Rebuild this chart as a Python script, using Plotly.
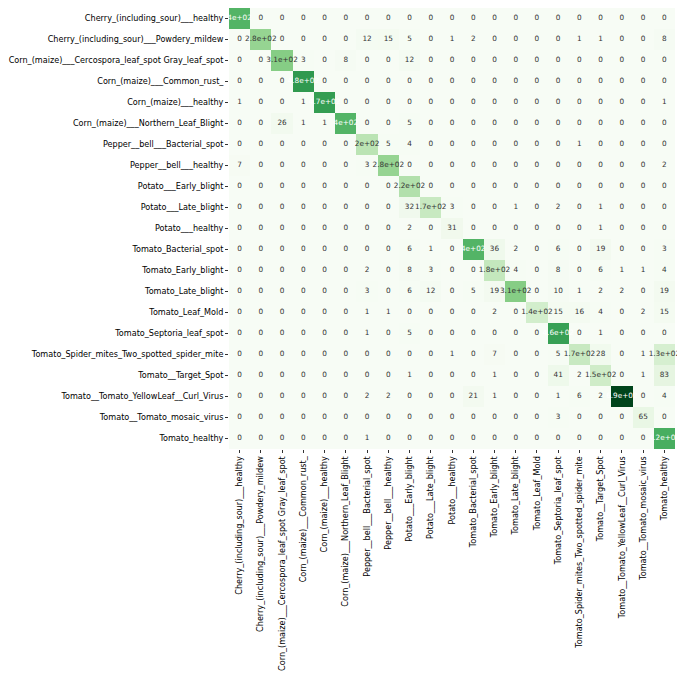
import plotly.graph_objects as go
import plotly.express as px

labels = [
    "Cherry_(including_sour)___healthy",
    "Cherry_(including_sour)___Powdery_mildew",
    "Corn_(maize)___Cercospora_leaf_spot Gray_leaf_spot",
    "Corn_(maize)___Common_rust_",
    "Corn_(maize)___healthy",
    "Corn_(maize)___Northern_Leaf_Blight",
    "Pepper__bell___Bacterial_spot",
    "Pepper__bell___healthy",
    "Potato___Early_blight",
    "Potato___Late_blight",
    "Potato___healthy",
    "Tomato_Bacterial_spot",
    "Tomato_Early_blight",
    "Tomato_Late_blight",
    "Tomato_Leaf_Mold",
    "Tomato_Septoria_leaf_spot",
    "Tomato_Spider_mites_Two_spotted_spider_mite",
    "Tomato__Target_Spot",
    "Tomato__Tomato_YellowLeaf__Curl_Virus",
    "Tomato__Tomato_mosaic_virus",
    "Tomato_healthy",
]

# one row of the confusion matrix per true class (predicted classes along x)
cherry_healthy = [400, 0, 0, 0, 0, 0, 0, 0, 0, 0, 0, 0, 0, 0, 0, 0, 0, 0, 0, 0, 0]
cherry_mildew = [0, 280, 0, 0, 0, 0, 12, 15, 5, 0, 1, 2, 0, 0, 0, 0, 1, 1, 0, 0, 8]
corn_cercospora = [0, 0, 310, 3, 0, 8, 0, 0, 12, 0, 0, 0, 0, 0, 0, 0, 0, 0, 0, 0, 0]
corn_rust = [0, 0, 0, 480, 0, 0, 0, 0, 0, 0, 0, 0, 0, 0, 0, 0, 0, 0, 0, 0, 0]
corn_healthy = [1, 0, 0, 1, 470, 0, 0, 0, 0, 0, 0, 0, 0, 0, 0, 0, 0, 0, 0, 0, 1]
corn_blight = [0, 0, 26, 1, 1, 400, 0, 0, 5, 0, 0, 0, 0, 0, 0, 0, 0, 0, 0, 0, 0]
pepper_spot = [0, 0, 0, 0, 0, 0, 200, 5, 4, 0, 0, 0, 0, 0, 0, 0, 1, 0, 0, 0, 0]
pepper_healthy = [7, 0, 0, 0, 0, 0, 3, 280, 0, 0, 0, 0, 0, 0, 0, 0, 0, 0, 0, 0, 2]
potato_early = [0, 0, 0, 0, 0, 0, 0, 0, 220, 0, 0, 0, 0, 0, 0, 0, 0, 0, 0, 0, 0]
potato_late = [0, 0, 0, 0, 0, 0, 0, 0, 32, 170, 3, 0, 0, 1, 0, 2, 0, 1, 0, 0, 0]
potato_healthy = [0, 0, 0, 0, 0, 0, 0, 0, 2, 0, 31, 0, 0, 0, 0, 0, 0, 1, 0, 0, 0]
tomato_bact = [0, 0, 0, 0, 0, 0, 0, 0, 6, 1, 0, 400, 36, 2, 0, 6, 0, 19, 0, 0, 3]
tomato_early = [0, 0, 0, 0, 0, 0, 2, 0, 8, 3, 0, 0, 180, 4, 0, 8, 0, 6, 1, 1, 4]
tomato_late = [0, 0, 0, 0, 0, 0, 3, 0, 6, 12, 0, 5, 19, 310, 0, 10, 1, 2, 2, 0, 19]
tomato_mold = [0, 0, 0, 0, 0, 0, 1, 1, 0, 0, 0, 0, 2, 0, 140, 15, 16, 4, 0, 2, 15]
tomato_septoria = [0, 0, 0, 0, 0, 0, 1, 0, 5, 0, 0, 0, 0, 0, 0, 460, 0, 1, 0, 0, 0]
tomato_mites = [0, 0, 0, 0, 0, 0, 0, 0, 0, 0, 1, 0, 7, 0, 0, 5, 170, 28, 0, 1, 130]
tomato_target = [0, 0, 0, 0, 0, 0, 0, 0, 1, 0, 0, 0, 1, 0, 0, 41, 2, 150, 0, 1, 83]
tomato_curl = [0, 0, 0, 0, 0, 0, 2, 2, 0, 0, 0, 21, 1, 0, 0, 1, 6, 2, 690, 0, 4]
tomato_mosaic = [0, 0, 0, 0, 0, 0, 0, 0, 0, 0, 0, 0, 0, 0, 0, 3, 0, 0, 0, 65, 0]
tomato_healthy = [0, 0, 0, 0, 0, 0, 1, 0, 0, 0, 0, 0, 0, 0, 0, 0, 0, 0, 0, 0, 420]

cm = [cherry_healthy, cherry_mildew, corn_cercospora, corn_rust, corn_healthy,
      corn_blight, pepper_spot, pepper_healthy, potato_early, potato_late,
      potato_healthy, tomato_bact, tomato_early, tomato_late, tomato_mold,
      tomato_septoria, tomato_mites, tomato_target, tomato_curl, tomato_mosaic,
      tomato_healthy]

vmax = max(max(r) for r in cm)
n = len(labels)

fig = go.Figure()
fig.add_trace(go.Heatmap(
    z=cm, x=labels, y=labels,
    colorscale=px.colors.sequential.Greens,
    zmin=0, zmax=vmax, showscale=False, hoverinfo="skip",
))

# seaborn-style annotations (fmt '.2g'), white on dark cells
xs, ys, txt, cols = [], [], [], []
for i, row in enumerate(cm):
    for j, v in enumerate(row):
        xs.append(labels[j])
        ys.append(labels[i])
        txt.append("{:.2g}".format(v))
        cols.append("white" if v > 0.5 * vmax else "#333333")

fig.add_trace(go.Scatter(
    x=xs, y=ys, text=txt, mode="text", cliponaxis=False,
    textfont=dict(family="DejaVu Sans", size=7.3, color=cols),
    hoverinfo="skip", showlegend=False,
))

# page body adds an 8px margin, so the figure is 8px smaller than the window
fig.update_layout(
    width=677, height=671,
    margin=dict(l=221, r=10, t=0, b=230),
    paper_bgcolor="white", plot_bgcolor="white",
    font=dict(family="DejaVu Sans", size=8, color="black"),
    showlegend=False,
)
fig.update_xaxes(range=[-0.5, n - 0.5], tickangle=-90, ticks="outside", ticklen=3,
                 tickcolor="#333", showgrid=False, zeroline=False, automargin=False,
                 tickfont=dict(size=8.1))
fig.update_yaxes(range=[n - 0.5, -0.5], ticks="outside", ticklen=3,
                 tickcolor="#333", showgrid=False, zeroline=False, automargin=False,
                 tickfont=dict(size=8.1))

fig.write_html("out.html")
